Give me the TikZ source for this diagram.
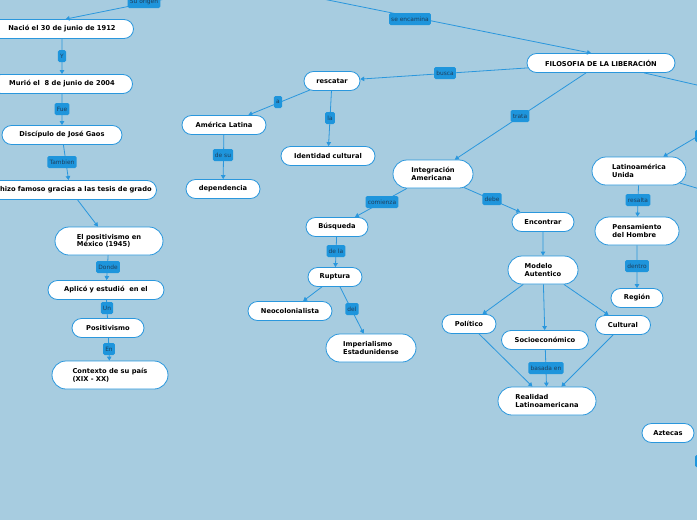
\documentclass[tikz,border=0pt]{standalone}
\usepackage{fontspec}
\setmainfont{DejaVu Sans}
\usetikzlibrary{shapes.misc,arrows.meta}
\definecolor{bg}{HTML}{A7CCE0}
\definecolor{lnk}{HTML}{2A97DD}
\definecolor{tag}{HTML}{1E95DC}
\definecolor{tagtxt}{HTML}{1F3F5C}
\tikzset{
  idea/.style={rounded rectangle, draw=lnk, fill=white, line width=0.8pt,
    font=\fontsize{6.7}{7.6}\selectfont\bfseries, align=left, minimum height=19pt, inner xsep=6pt},
  tag/.style={fill=tag, rounded corners=1.5pt, text=tagtxt,
    font=\fontsize{5.9}{6.5}\selectfont, inner sep=2.2pt, minimum height=12pt},
  link/.style={draw=lnk, line width=0.8pt},
  arr/.style={link, -{Triangle[length=4pt,width=4.5pt]}}
}
\begin{document}
\begin{tikzpicture}[x=1pt,y=-1pt]
\fill[bg] (0,0) rectangle (697,520);
\useasboundingbox (0,0) rectangle (697,520);
% left column
\coordinate (src) at (200,-8);
\node[idea, minimum width=155pt] (nacio) at (62,29) {Nació el 30 de junio de 1912};
\node[idea, minimum width=153pt] (murio) at (62,84) {Murió el~ 8 de junio de 2004};
\node[idea, minimum width=132pt] (gaos) at (62,135) {Discípulo de José Gaos};
\node[idea, minimum width=185pt] (famoso) at (70,190) {Se hizo famoso gracias a las tesis de grado};
\node[idea, minimum width=120pt, minimum height=28pt] (mexico) at (109,241) {El positivismo en\\México (1945)};
\node[idea, minimum width=128pt] (aplico) at (106,290) {Aplicó y estudió~ en el};
\node[idea, minimum width=84pt] (posit) at (108,328) {Positivismo};
\node[idea, minimum width=128pt, minimum height=28pt] (contexto) at (110,375) {Contexto de su país\\(XIX - XX)};
\draw[arr] (src) -- (nacio.70);
\draw[arr] (nacio) -- (murio);
\draw[arr] (murio) -- (gaos);
\draw[arr] (gaos) -- (famoso);
\draw[arr] (famoso) -- (mexico);
\draw[arr] (mexico) -- (aplico);
\draw[link] (aplico) -- (posit);
\draw[arr] (posit) -- (contexto);
\node[tag] at (144,2) {Su origen};
\node[tag] at (62,56) {Y};
\node[tag] at (62,109) {Fue};
\node[tag] at (62,162) {Tambien};
\node[tag] at (108,267) {Donde};
\node[tag] at (107,308) {Un};
\node[tag] at (109,349) {En};
% centre
\coordinate (top) at (318,-2);
\coordinate (east1) at (710,88);
\node[idea, minimum width=160pt] (filo) at (601,63) {FILOSOFIA DE LA LIBERACIÓN};
\node[idea, minimum width=68pt] (rescatar) at (332,81) {rescatar};
\node[idea, minimum width=96pt] (amlat) at (224,125) {América Latina};
\node[idea, minimum width=86pt] (depend) at (223,189) {dependencia};
\node[idea, minimum width=106pt] (ident) at (328,156) {Identidad cultural};
\node[idea, minimum width=92pt, minimum height=28pt] (integ) at (433,174) {Integración\\Americana};
\node[idea, minimum width=74pt] (busq) at (337,227) {Búsqueda};
\node[idea, minimum width=66pt] (ruptura) at (335,277) {Ruptura};
\node[idea, minimum width=96pt] (neo) at (290,311) {Neocolonialista};
\node[idea, minimum width=102pt, minimum height=28pt] (imper) at (371,348) {Imperialismo\\Estadunidense};
\node[idea, minimum width=74pt] (encontrar) at (543,222) {Encontrar};
\node[idea, minimum width=82pt, minimum height=28pt] (modelo) at (543,270) {Modelo\\Autentico};
\node[idea, minimum width=66pt] (politico) at (469,324) {Político};
\node[idea, minimum width=99pt] (socio) at (545,340) {Socioeconómico};
\node[idea, minimum width=67pt] (cultural) at (623,325) {Cultural};
\node[idea, minimum width=110pt, minimum height=28pt] (realidad) at (547,401) {Realidad\\Latinoamericana};
\draw[arr] (top) -- (filo.135);
\draw[link] (filo) -- (east1);
\draw[arr] (filo) -- (rescatar);
\draw[arr] (rescatar) -- (amlat);
\draw[arr] (amlat) -- (depend);
\draw[arr] (rescatar) -- (ident);
\draw[arr] (filo) -- (integ);
\draw[arr] (integ) -- (busq);
\draw[arr] (busq) -- (ruptura);
\draw[arr] (ruptura) -- (neo);
\draw[arr] (ruptura) -- (imper);
\draw[arr] (integ) -- (encontrar);
\draw[arr] (encontrar) -- (modelo);
\draw[arr] (modelo) -- (politico);
\draw[arr] (modelo) -- (socio);
\draw[arr] (modelo) -- (cultural);
\draw[arr] (politico) -- (realidad);
\draw[arr] (socio) -- (realidad);
\draw[arr] (cultural) -- (realidad);
\node[tag] at (410,19) {se encamina};
\node[tag] at (445,73) {busca};
\node[tag] at (278,102) {a};
\node[tag] at (223,155) {de su};
\node[tag] at (330,118) {la};
\node[tag] at (520,116) {trata};
\node[tag] at (382,202) {comienza};
\node[tag] at (336,251) {de la};
\node[tag] at (352,309) {del};
\node[tag] at (492,199) {debe};
\node[tag] at (546,368) {basada en};
% right side
\coordinate (east2) at (705,132);
\coordinate (east3) at (710,192);
\node[idea, minimum width=106pt, minimum height=28pt] (unida) at (639,171) {Latinoamérica\\Unida};
\node[idea, minimum width=96pt, minimum height=28pt] (pensa) at (637,231) {Pensamiento\\del Hombre};
\node[idea, minimum width=64pt] (region) at (637,298) {Región};
\node[idea, minimum width=64pt] (aztecas) at (668,433) {Aztecas};
\node[idea, minimum width=40pt] (cutA) at (716,348) {};
\node[tag, minimum width=14pt] at (702,136) {};
\node[tag, minimum width=14pt] at (702,461) {};
\draw[arr] (east2) -- (unida);
\draw[link] (unida) -- (east3);
\draw[arr] (unida) -- (pensa);
\draw[arr] (pensa) -- (region);
\node[tag] at (638,200) {resalta};
\node[tag] at (637,266) {dentro};
\end{tikzpicture}
\end{document}
